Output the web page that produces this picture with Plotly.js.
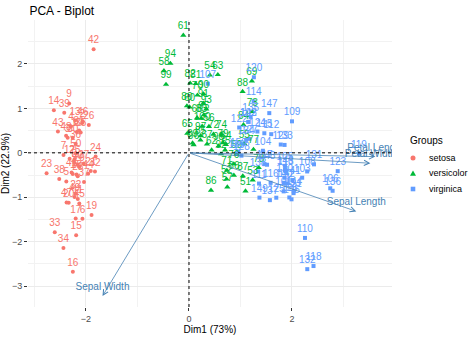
<!DOCTYPE html>
<html>
<head>
<meta charset="utf-8">
<script src="https://cdn.plot.ly/plotly-3.0.1.min.js"></script>
<style>
  html, body { margin: 0; padding: 0; background: #ffffff; }
  #chart { width: 474px; height: 338px; }
</style>
</head>
<body>
<div id="chart"></div>
<script>
// Iris PCA: individual coordinates on Dim1 / Dim2, one pair of arrays per species
const groupNames = ['setosa', 'versicolor', 'virginica'];
const groupColors = ['#F8766D', '#00BA38', '#619CFF'];
const groupSymbols = ['circle', 'triangle-up', 'square'];

const setosaIds = [1,2,3,4,5,6,7,8,9,10,11,12,13,14,15,16,17,18,19,20,21,22,23,24,25,26,27,28,29,30,31,32,33,34,35,36,37,38,39,40,41,42,43,44,45,46,47,48,49,50];
const setosaX = [-2.257,-2.074,-2.356,-2.292,-2.382,-2.069,-2.436,-2.225,-2.327,-2.177,-2.159,-2.318,-2.211,-2.624,-2.191,-2.255,-2.200,-2.183,-1.892,-2.336,-1.908,-2.200,-2.765,-1.813,-2.220,-1.945,-2.044,-2.161,-2.132,-2.258,-2.133,-1.826,-2.606,-2.438,-2.103,-2.201,-2.038,-2.519,-2.422,-2.163,-2.279,-1.852,-2.545,-1.958,-2.130,-2.063,-2.377,-2.386,-2.222,-2.197];
const setosaY = [-0.478,0.672,0.341,0.595,-0.645,-1.484,-0.047,-0.222,1.112,0.467,-1.040,-0.133,0.726,0.958,-1.854,-2.677,-1.479,-0.487,-1.400,-1.124,-0.408,-0.921,-0.457,-0.085,-0.137,0.624,-0.241,-0.525,-0.312,0.337,0.503,-0.422,-1.788,-2.144,0.459,0.205,-0.659,-0.590,0.901,-0.268,-0.440,2.330,0.478,-0.471,-1.138,0.709,-1.117,0.385,-0.995,-0.009];

const versicolorIds = [51,52,53,54,55,56,57,58,59,60,61,62,63,64,65,66,67,68,69,70,71,72,73,74,75,76,77,78,79,80,81,82,83,84,85,86,87,88,89,90,91,92,93,94,95,96,97,98,99,100];
const versicolorX = [1.098,0.729,1.237,0.406,1.072,0.387,0.744,-0.486,0.925,0.011,-0.110,0.439,0.560,0.717,-0.033,0.872,0.349,0.158,1.221,0.164,0.735,0.475,1.230,0.631,0.700,0.871,1.252,1.354,0.663,-0.040,0.130,0.023,0.241,1.058,0.223,0.428,1.045,1.041,0.069,0.283,0.278,0.622,0.336,-0.361,0.288,0.091,0.227,0.574,-0.446,0.256];
const versicolorY = [-0.860,-0.593,-0.614,1.749,0.208,0.591,-0.770,1.846,-0.032,1.030,2.645,0.063,1.759,0.186,0.438,-0.507,0.196,0.789,1.617,1.298,-0.395,0.416,0.930,0.415,0.063,-0.250,0.077,-0.330,0.225,1.055,1.557,1.567,0.775,0.632,0.287,-0.843,-0.520,1.378,0.219,1.325,1.116,-0.025,0.985,2.013,0.853,0.181,0.384,0.154,1.539,0.597];

const virginicaIds = [101,102,103,104,105,106,107,108,109,110,111,112,113,114,115,116,117,118,119,120,121,122,123,124,125,126,127,128,129,130,131,132,133,134,135,136,137,138,139,140,141,142,143,144,145,146,147,148,149,150];
const virginicaX = [1.838,1.154,2.198,1.435,1.862,2.743,0.366,2.295,2.000,2.252,1.360,1.597,1.878,1.256,1.463,1.585,1.467,2.418,3.300,1.260,2.031,0.975,2.888,1.329,1.695,1.948,1.171,1.018,1.782,1.858,2.428,2.297,1.856,1.110,1.198,2.789,1.571,1.342,0.922,1.846,2.008,1.895,1.154,2.034,1.991,1.864,1.559,1.516,1.368,0.957];
const virginicaY = [-0.867,0.696,-0.560,0.047,-0.294,-0.798,1.556,-0.419,0.709,-1.915,-0.691,0.420,-0.418,1.159,0.441,-0.674,-0.255,-2.548,-0.018,1.701,-0.907,0.570,-0.412,0.480,-1.010,-1.004,0.315,-0.064,0.187,-0.560,-0.259,-2.618,0.178,0.292,0.809,-0.854,-1.065,-0.421,-0.017,-0.674,-0.612,-0.687,0.696,-0.865,-1.046,-0.386,0.894,-0.268,-1.008,0.024];

// Variable arrows (tips, already scaled to the individuals' space)
const varNames = ['Sepal Length', 'Sepal Width', 'Petal Length', 'Petal Width'];
const varX = [3.249, -1.679, 3.619, 3.522];
const varY = [-1.318, -3.223, -0.085, -0.234];

const dim1Label = 'Dim1 (73%)';
const dim2Label = 'Dim2 (22.9%)';
const legendTitle = 'Groups';

const FONT = 'Liberation Sans, Arial, Helvetica, sans-serif';
const VAR_COLOR = '#4682B4';
const CLEAR = 'rgba(0,0,0,0)';

// plot area geometry (px)
const W = 474, H = 338;
const M = { l: 28, r: 82, t: 20, b: 31 };
const PW = W - M.l - M.r, PH = H - M.t - M.b;
const px2x = px => (px - M.l) / PW;
const py2y = py => (H - M.b - py) / PH;

const groupData = [
  { ids: setosaIds, x: setosaX, y: setosaY },
  { ids: versicolorIds, x: versicolorX, y: versicolorY },
  { ids: virginicaIds, x: virginicaX, y: virginicaY }
];

const traces = [];
const markerSizes = [4, 5.5, 4];

// points
groupData.forEach((g, i) => {
  traces.push({
    type: 'scatter', mode: 'markers', name: groupNames[i], showlegend: false,
    x: g.x, y: g.y,
    marker: { color: groupColors[i], symbol: groupSymbols[i], size: markerSizes[i] },
    hoverinfo: 'skip'
  });
});
// point labels; a clear marker keeps each label a few px above its point
groupData.forEach((g, i) => {
  traces.push({
    type: 'scatter', mode: 'markers+text', showlegend: false,
    x: g.x, y: g.y, text: g.ids.map(String),
    textposition: 'top center',
    marker: { size: 4, color: CLEAR },
    textfont: { family: FONT, size: 10, color: groupColors[i] },
    hoverinfo: 'skip'
  });
});
// variable labels at arrow tips
traces.push({
  type: 'scatter', mode: 'markers+text', showlegend: false,
  x: varX, y: varY, text: varNames, textposition: 'top center',
  marker: { size: 4, color: CLEAR },
  textfont: { family: FONT, size: 10, color: VAR_COLOR },
  cliponaxis: true, hoverinfo: 'skip'
});

const annotations = varNames.map((n, i) => ({
  x: varX[i], y: varY[i], xref: 'x', yref: 'y',
  ax: 0, ay: 0, axref: 'x', ayref: 'y',
  text: '', showarrow: true, arrowhead: 5, arrowsize: 1.3, arrowwidth: 0.8,
  arrowcolor: VAR_COLOR, standoff: 0
}));

// reference lines through the origin
const shapes = [
  { type: 'line', xref: 'x', yref: 'paper', x0: 0, x1: 0, y0: 0, y1: 1,
    line: { color: '#000000', width: 1, dash: '3px,3px' }, layer: 'above' },
  { type: 'line', xref: 'paper', yref: 'y', x0: 0, x1: 1, y0: 0, y1: 0,
    line: { color: '#000000', width: 1, dash: '3px,3px' }, layer: 'above' }
];

// legend: title, keys and labels
annotations.push({
  xref: 'paper', yref: 'paper', x: px2x(408), y: py2y(140),
  xanchor: 'left', yanchor: 'middle', showarrow: false, text: legendTitle,
  font: { family: FONT, size: 10, color: '#000000' }
});
const keyY = [158, 173.5, 189];
groupNames.forEach((name, i) => {
  const ax = px2x(413), ay = py2y(keyY[i]);
  const base = {
    xref: 'paper', yref: 'paper', xsizemode: 'pixel', ysizemode: 'pixel',
    xanchor: ax, yanchor: ay, fillcolor: groupColors[i],
    line: { width: 0 }, layer: 'above'
  };
  if (groupSymbols[i] === 'circle') {
    shapes.push(Object.assign({}, base, { type: 'circle', x0: -2.5, x1: 2.5, y0: -2.5, y1: 2.5 }));
  } else if (groupSymbols[i] === 'square') {
    shapes.push(Object.assign({}, base, { type: 'rect', x0: -2.3, x1: 2.3, y0: -2.3, y1: 2.3 }));
  } else {
    shapes.push(Object.assign({}, base, { type: 'path', path: 'M-3,-2.2 L3,-2.2 L0,3 Z' }));
  }
  annotations.push({
    xref: 'paper', yref: 'paper', x: px2x(427), y: ay,
    xanchor: 'left', yanchor: 'middle', showarrow: false, text: name,
    font: { family: FONT, size: 9, color: '#000000' }
  });
});

const axisCommon = {
  showgrid: true, gridcolor: '#EBEBEB', gridwidth: 1,
  zeroline: false, showline: false,
  ticks: 'outside', ticklen: 3, tickwidth: 1, tickcolor: '#333333',
  tickfont: { family: FONT, size: 9, color: '#4D4D4D' },
  automargin: false
};

const layout = {
  width: W, height: H,
  margin: { l: M.l, r: M.r, t: M.t, b: M.b, pad: 0, autoexpand: false },
  paper_bgcolor: '#ffffff', plot_bgcolor: '#ffffff',
  font: { family: FONT, color: '#000000' },
  title: {
    text: 'PCA - Biplot', font: { family: FONT, size: 12, color: '#000000' },
    xref: 'paper', x: 0.004, xanchor: 'left',
    yref: 'container', y: 0.967, yanchor: 'middle'
  },
  xaxis: Object.assign({}, axisCommon, {
    range: [-3.126, 3.942], tick0: 0, dtick: 2,
    minor: { tick0: 0, dtick: 1, showgrid: true, gridcolor: '#F2F2F2', gridwidth: 1, ticks: '' },
    title: { text: dim1Label, font: { family: FONT, size: 10, color: '#000000' }, standoff: 3 }
  }),
  yaxis: Object.assign({}, axisCommon, {
    range: [-3.47, 2.99], tick0: 0, dtick: 1,
    minor: { tick0: 0, dtick: 0.5, showgrid: true, gridcolor: '#F2F2F2', gridwidth: 1, ticks: '' },
    title: { text: dim2Label, font: { family: FONT, size: 10, color: '#000000' }, standoff: 3 }
  }),
  shapes: shapes,
  annotations: annotations,
  showlegend: false
};

Plotly.newPlot('chart', traces, layout, { displayModeBar: false, staticPlot: true });
</script>
</body>
</html>
